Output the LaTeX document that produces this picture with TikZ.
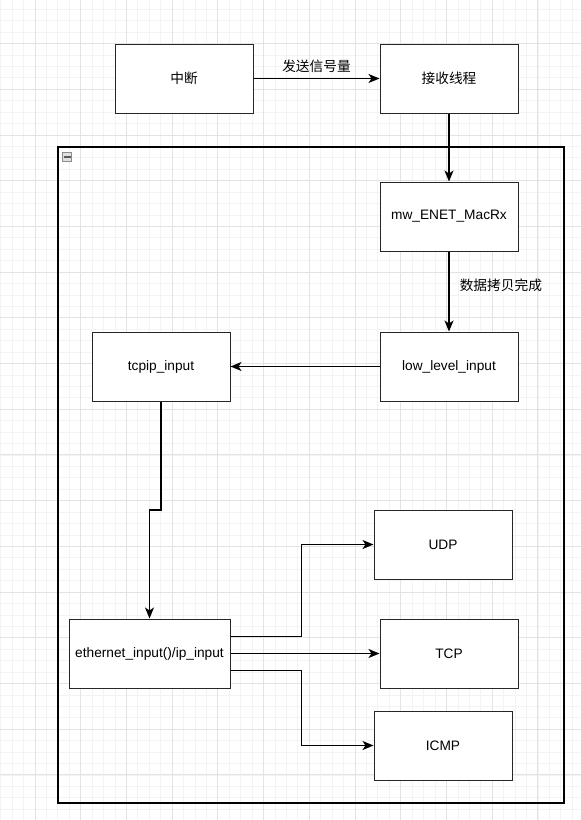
\documentclass[tikz,border=0pt]{standalone}
\usepackage{fontspec}
\setmainfont{Liberation Sans}
\newfontfamily\cjk{Noto Sans CJK SC}
\usetikzlibrary{arrows.meta,positioning}
\definecolor{gridmajor}{HTML}{E3E3E3}
\definecolor{gridminor}{HTML}{F3F3F3}

\begin{document}
\begin{tikzpicture}[x=1pt, y=-1pt, font=\fontsize{13.7}{16}\selectfont,
		blk/.style={draw=black!85, line width=1pt, fill=white, minimum width=138pt, minimum height=69pt, inner sep=0pt},
		conn/.style={-{Stealth[length=11pt,width=9pt,inset=3pt]}, line width=1.5pt, draw=black},
		lbl/.style={inner sep=1pt}]
		\useasboundingbox (0,0) rectangle (581,820);
		\fill[white] (0,0) rectangle (581,820);
		% grid
		\foreach \i in {0,...,50} \draw[gridminor, line width=0.8pt] ({0.7+11.43*\i},0) -- ({0.7+11.43*\i},820);
		\foreach \j in {0,...,71} \draw[gridminor, line width=0.8pt] (0,{9.2+11.43*\j}) -- (581,{9.2+11.43*\j});
		\foreach \i in {0,...,12} \draw[gridmajor, line width=0.8pt] ({35+45.71*\i},0) -- ({35+45.71*\i},820);
		\foreach \j in {-1,...,17} \draw[gridmajor, line width=0.8pt] (0,{43.5+45.71*\j}) -- (581,{43.5+45.71*\j});
		%
		\node[draw=black, line width=1.1pt, minimum width=506pt, minimum height=656pt, inner sep=0pt] (frame) at (311,475) {};
		\node[draw=black!45, fill=black!12, line width=0.8pt, minimum size=9pt, inner sep=0pt, anchor=north west] (fold) at ([xshift=5pt,yshift=-6pt]frame.north west) {};
		\draw[black!65, line width=2pt] ([xshift=1.5pt]fold.west) -- ([xshift=-1.5pt]fold.east);
		%
		\node[blk] (irq) at (184,78.5) {\cjk 中断};
		\node[blk] (recv) at (449,78.5) {\cjk 接收线程};
		\node[blk] (macrx) at (449,216.5) {mw\_ENET\_MacRx};
		\node[blk] (lowin) at (449,366.5) {low\_level\_input};
		\node[blk] (tcpip) at (161,366.5) {tcpip\_input};
		\node[blk, minimum width=161pt] (ethin) at (149.5,653.5) {ethernet\_input()/ip\_input};
		\node[blk] (udp) at (443,544.5) {UDP};
		\node[blk] (tcp) at (449,653.5) {TCP};
		\node[blk] (icmp) at (443,745.5) {ICMP};
		\coordinate (bend) at (161,510);
		%
		\draw[conn] (irq) to node[lbl, above=4pt] {\cjk 发送信号量} (recv);
		\draw[conn] (recv) to (macrx);
		\draw[conn] (macrx) to node[lbl, right=9pt, pos=0.42] {\cjk 数据拷贝完成} (lowin);
		\draw[conn] (lowin) to (tcpip);
		\draw[conn] (tcpip.south) -- (bend) -| (ethin.north);
		\draw[conn] ([yshift=17pt]ethin.east) -- ++(71,0) |- (udp.west);
		\draw[conn] (ethin.east) -- (tcp.west);
		\draw[conn] ([yshift=-17pt]ethin.east) -- ++(71,0) |- (icmp.west);
	\end{tikzpicture}
\end{document}
